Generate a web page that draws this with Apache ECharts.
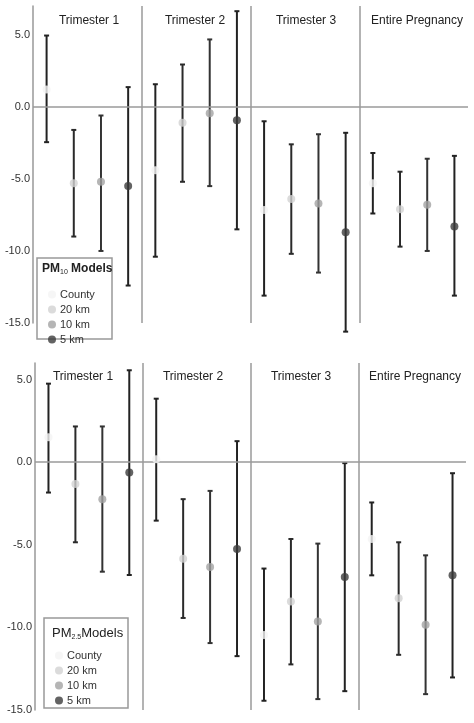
<!DOCTYPE html>
<html><head><meta charset="utf-8">
<script src="https://cdn.jsdelivr.net/npm/echarts@6/dist/echarts.min.js"></script>
<style>html,body{margin:0;padding:0;background:#fff}#c{width:474px;height:723px}</style>
</head><body><div id="c"></div>
<script>
const periods = ['Trimester 1','Trimester 2','Trimester 3','Entire Pregnancy'];
const models = ['County','20 km','10 km','5 km'];
const yTicks = [-15, -10, -5, 0, 5];
const pm10Est = [[1.2,-5.3,-5.2,-5.5],[-4.4,-1.1,-0.44,-0.93],[-7.15,-6.4,-6.7,-8.7],[-5.3,-7.1,-6.8,-8.3]];
const pm10Low = [[-2.45,-9.0,-10.0,-12.4],[-10.4,-5.2,-5.5,-8.5],[-13.1,-10.2,-11.5,-15.6],[-7.4,-9.7,-10.0,-13.1]];
const pm10High = [[4.95,-1.6,-0.6,1.37],[1.57,2.94,4.68,6.64],[-1.0,-2.6,-1.9,-1.8],[-3.2,-4.5,-3.6,-3.4]];
const pm25Est = [[1.5,-1.33,-2.24,-0.63],[0.18,-5.84,-6.34,-5.25],[-10.46,-8.44,-9.64,-6.95],[-4.65,-8.24,-9.84,-6.85]];
const pm25Low = [[-1.84,-4.85,-6.63,-6.83],[-3.54,-9.43,-10.95,-11.74],[-14.44,-12.24,-14.34,-13.86],[-6.85,-11.66,-14.04,-13.03]];
const pm25High = [[4.75,2.16,2.16,5.56],[3.84,-2.24,-1.74,1.27],[-6.44,-4.65,-4.93,-0.06],[-2.44,-4.85,-5.64,-0.67]];

const dotColors = ['#f4f4f4','#d2d2d2','#a3a3a3','#3c3c3c'];
const barColors = ['#222','#2a2a2a','#333','#222'];

function errSeries(gi, est, low, high){
  const out = [];
  models.forEach((m, mi) => {
    const bars = periods.map((p, pi) => [pi*4 + mi + 0.5, low[pi][mi], high[pi][mi]]);
    out.push({
      type:'custom', xAxisIndex:gi, yAxisIndex:gi, z:2, silent:true,
      data: bars,
      renderItem: (params, api) => {
        const x = api.value(0), lo = api.coord([x, api.value(1)]), hi = api.coord([x, api.value(2)]);
        const st = {stroke: barColors[mi], lineWidth: 2};
        return {type:'group', children:[
          {type:'line', shape:{x1:lo[0],y1:lo[1],x2:hi[0],y2:hi[1]}, style:st},
          {type:'line', shape:{x1:lo[0]-2.5,y1:lo[1],x2:lo[0]+2.5,y2:lo[1]}, style:st},
          {type:'line', shape:{x1:hi[0]-2.5,y1:hi[1],x2:hi[0]+2.5,y2:hi[1]}, style:st}
        ]};
      }
    });
    out.push({
      type:'scatter', name:m, xAxisIndex:gi, yAxisIndex:gi, z:5,
      symbolSize: 8, itemStyle:{color: dotColors[mi]},
      data: periods.map((p, pi) => [pi*4 + mi + 0.5, est[pi][mi]])
    });
  });
  out.push({
    type:'line', xAxisIndex:gi, yAxisIndex:gi, data:[], silent:true,
    markLine:{symbol:'none', silent:true, label:{show:false},
      lineStyle:{color:'#9a9a9a', type:'solid', width:1.5},
      data:[{yAxis:0},{xAxis:4},{xAxis:8},{xAxis:12}]}
  });
  return out;
}

const grids = [
  {left:33, right:6, top:6, bottom:400},
  {left:35, right:8, top:363, bottom:13}
];
const yMax = [7, 6];
const chart = echarts.init(document.getElementById('c'));
const titles = [];
const centers = [[84,190,301,412],[78,188,296,410]];
const titleTop = [10, 366];
periods.forEach((p, pi) => [0,1].forEach(gi => titles.push({
  text:p, left:centers[gi][pi], top:titleTop[gi], textAlign:'center',
  textStyle:{fontSize:12, fontWeight:'normal', color:'#222', fontFamily:'Liberation Sans, Arial'}
})));
const legendStyle = {orient:'vertical', data:models, icon:'circle', itemWidth:8, itemHeight:8,
  itemGap:4, selectedMode:false, textStyle:{fontSize:11, color:'#333', fontFamily:'Liberation Sans, Arial', padding:[0,0,0,-1]}};
chart.setOption({
  animation:false,
  title: titles,
  grid: grids,
  xAxis: grids.map((g, gi) => ({type:'value', gridIndex:gi, min:0, max:16, show:false})),
  yAxis: grids.map((g, gi) => ({type:'value', gridIndex:gi, position:'left', min:-15, max:yMax[gi], interval:5,
    axisLine:{show:true, onZero:false, lineStyle:{color:'#999', width:1.5}}, axisTick:{show:false},
    splitLine:{show:false},
    axisLabel:{fontSize:11, color:'#333', margin:3, fontFamily:'Liberation Sans, Arial',
      formatter: v => yTicks.includes(v) ? v.toFixed(1) : ''}})),
  legend: [
    Object.assign({left:43, top:284}, legendStyle),
    Object.assign({left:50, top:645, itemGap:6}, legendStyle)
  ],
  graphic: [
    {type:'rect', shape:{x:37, y:258, width:75, height:81}, style:{fill:'#fff', stroke:'#999', lineWidth:1.5}, z:-1},
    {type:'text', x:42, y:261, style:{rich:{a:{fontSize:12, fontWeight:'bold', fill:'#222'}, s:{fontSize:7, fill:'#222', padding:[8,0,0,0]}},
      text:'{a|PM}{s|10}{a| Models}', fontFamily:'Liberation Sans, Arial'}},
    {type:'rect', shape:{x:44, y:618, width:84, height:90}, style:{fill:'#fff', stroke:'#999', lineWidth:1.5}, z:-1},
    {type:'text', x:52, y:625, style:{rich:{a:{fontSize:13, fill:'#222'}, s:{fontSize:7, fill:'#222', padding:[9,0,0,0]}},
      text:'{a|PM}{s|2.5}{a|Models}', fontFamily:'Liberation Sans, Arial'}}
  ],
  series: [...errSeries(0, pm10Est, pm10Low, pm10High), ...errSeries(1, pm25Est, pm25Low, pm25High)]
});
</script></body></html>
